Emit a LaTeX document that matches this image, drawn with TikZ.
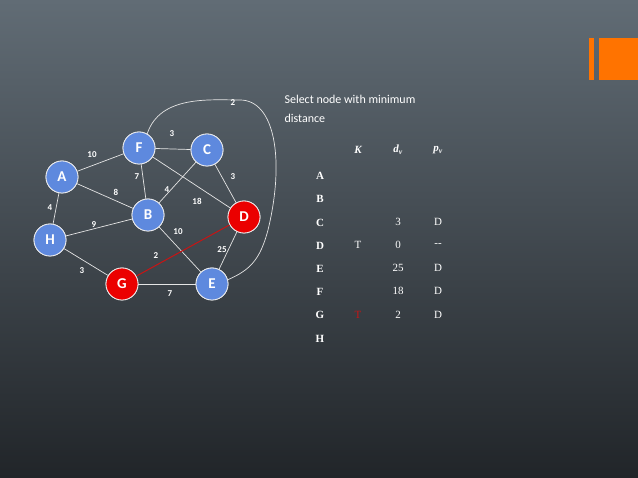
\documentclass[tikz,border=0pt]{standalone}
\usepackage{fontspec}
\setmainfont{Carlito}
\newfontfamily\tnr{Liberation Serif}
\begin{document}
\begin{tikzpicture}[x=1pt,y=-1pt,
  vtx/.style={circle,fill=blue!45!cyan!60!white,fill={rgb,255:red,94;green,137;blue,222},draw=white!85!gray,line width=0.8pt,minimum size=32pt,inner sep=0pt,text=white,font=\bfseries\fontsize{15}{15}\selectfont},
  red vtx/.style={vtx,fill={rgb,255:red,235;green,0;blue,0}},
  edge/.style={draw=white!80!gray,line width=0.7pt},
  wl/.style={text=white,font=\bfseries\fontsize{9}{9}\selectfont,inner sep=0pt},
  tab/.style={text=white,font=\tnr\fontsize{11}{11}\selectfont,inner sep=0pt}]
\shade[top color={rgb,255:red,97;green,108;blue,117},bottom color={rgb,255:red,33;green,37;blue,41}] (0,0) rectangle (638,478);
\useasboundingbox (0,0) rectangle (638,478);
\fill[orange!90!red] (589,38) rectangle (594,80);
\fill[orange!90!red] (599,38) rectangle (638,80);
\node[vtx] (F) at (139,148) {F};
\node[vtx] (C) at (207,150) {C};
\node[vtx] (A) at (62,177) {A};
\node[vtx] (B) at (148,215) {B};
\node[red vtx] (D) at (244,217) {D};
\node[vtx] (H) at (50,240) {H};
\node[red vtx] (G) at (122,284) {G};
\node[vtx] (E) at (212,284) {E};
\begin{scope}[on background layer/.try]
\end{scope}
\draw[edge] (F)--(C); \draw[edge] (F)--(A); \draw[edge] (F)--(B); \draw[edge] (F)--(D);
\draw[edge] (C)--(B); \draw[edge] (C)--(D); \draw[edge] (A)--(B); \draw[edge] (A)--(H);
\draw[edge] (H)--(B); \draw[edge] (H)--(G); \draw[edge] (B)--(E); \draw[edge] (G)--(E);
\draw[edge] (D)--(E);
\draw[draw={rgb,255:red,200;green,20;blue,20},line width=1pt] (G)--(D);
\draw[edge] (F.60) .. controls (160,95) and (210,100) .. (240,100) .. controls (275,100) and (285,160) .. (268,230) .. controls (260,260) and (250,270) .. (E.15);
\node[vtx] at (F) {F}; \node[vtx] at (C) {C}; \node[vtx] at (A) {A}; \node[vtx] at (B) {B};
\node[red vtx] at (D) {D}; \node[vtx] at (H) {H}; \node[red vtx] at (G) {G}; \node[vtx] at (E) {E};
\node[wl] at (233,103) {2}; \node[wl] at (172,134) {3}; \node[wl] at (92,155) {10};
\node[wl] at (137,177) {7}; \node[wl] at (116,192) {8}; \node[wl] at (167,190) {4};
\node[wl] at (197,201) {18}; \node[wl] at (233,177) {3}; \node[wl] at (50,208) {4};
\node[wl] at (94,225) {9}; \node[wl] at (178,232) {10}; \node[wl] at (156,256) {2};
\node[wl] at (222,250) {25}; \node[wl] at (82,271) {3}; \node[wl] at (170,294) {7};
\node[text=white,anchor=west,align=left,font=\fontsize{12}{19}\selectfont] at (281,109) {Select node with minimum\\distance};
\node[tab] at (358,150) {\bfseries\itshape K};
\node[tab] at (398,150) {\bfseries\itshape d\textsubscript{v}};
\node[tab] at (438,150) {\bfseries\itshape p\textsubscript{v}};
\foreach \l [count=\i] in {A,B,C,D,E,F,G,H} \node[tab,font=\tnr\bfseries\fontsize{11}{11}\selectfont] at (320,153+23.2*\i) {\l};
\node[tab] at (358,245) {T}; \node[tab,text={rgb,255:red,200;green,20;blue,20}] at (358,315) {T};
\node[tab] at (398,222) {3}; \node[tab] at (398,245) {0}; \node[tab] at (398,268) {25};
\node[tab] at (398,291) {18}; \node[tab] at (398,315) {2};
\node[tab] at (438,222) {D}; \node[tab] at (438,245) {--}; \node[tab] at (438,268) {D};
\node[tab] at (438,291) {D}; \node[tab] at (438,315) {D};
\end{tikzpicture}
\end{document}
